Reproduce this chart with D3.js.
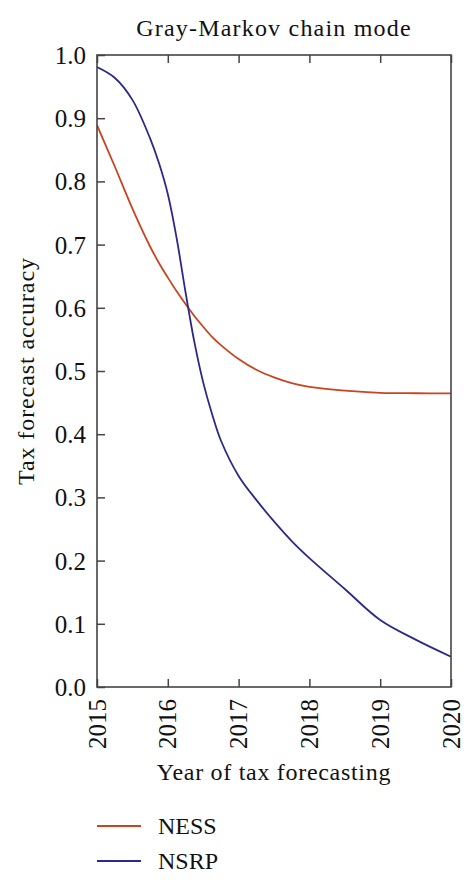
<!DOCTYPE html>
<html>
<head>
<meta charset="utf-8">
<script src="https://cdn.jsdelivr.net/npm/d3@7"></script>
<style>
  body { margin: 0; background: #fff; }
  svg text { font-family: "Liberation Serif", "DejaVu Serif", serif; fill: #111; }
</style>
</head>
<body>
<div class="canvas"></div>
<script>
// data
const years = [2015, 2015.25, 2015.5, 2015.75, 2015.875, 2016, 2016.125, 2016.25, 2016.375, 2016.5,
               2016.625, 2016.75, 2017, 2017.25, 2017.5, 2017.75, 2018, 2018.5, 2019, 2019.5, 2020];
const ness = [0.889, 0.824, 0.757, 0.697, 0.671, 0.648, 0.626, 0.606, 0.587, 0.570,
              0.554, 0.541, 0.519, 0.502, 0.490, 0.481, 0.475, 0.469, 0.4655, 0.4648, 0.4647];
const nsrp = [0.981, 0.964, 0.929, 0.868, 0.829, 0.780, 0.710, 0.625, 0.546, 0.482,
              0.432, 0.390, 0.334, 0.296, 0.262, 0.231, 0.204, 0.155, 0.106, 0.075, 0.048];
const xTicks = [2015, 2016, 2017, 2018, 2019, 2020];
const yTicks = [0, 0.1, 0.2, 0.3, 0.4, 0.5, 0.6, 0.7, 0.8, 0.9, 1.0];
const seriesNames = ['NESS', 'NSRP'];

const dims = { width: 474, height: 884 };
const plot = { left: 97, right: 451, top: 55, bottom: 687 };
const colours = { NESS: '#c9441f', NSRP: '#2c2a88' };

const svg = d3.select('.canvas')
    .append('svg')
    .attr('width', dims.width)
    .attr('height', dims.height);

const x = d3.scaleLinear().domain([2015, 2020]).range([plot.left, plot.right]);
const y = d3.scaleLinear().domain([0, 1]).range([plot.bottom, plot.top]);

// inside ticks
const tickLen = 8;
const xAxisBottom = d3.axisBottom(x).tickValues(xTicks).tickSize(-tickLen).tickFormat('');
const xAxisTop = d3.axisTop(x).tickValues(xTicks).tickSize(-tickLen).tickFormat('');
const yAxis = d3.axisLeft(y).tickValues(yTicks).tickSize(-tickLen).tickPadding(11)
    .tickFormat(d3.format('.1f'));

const styleAxis = g => {
    g.select('.domain').remove();
    g.selectAll('line').attr('stroke', '#444').attr('stroke-width', 1.5);
};

svg.append('g').attr('transform', `translate(0,${plot.bottom})`).call(xAxisBottom).call(styleAxis);
svg.append('g').attr('transform', `translate(0,${plot.top})`).call(xAxisTop).call(styleAxis);

const yG = svg.append('g').attr('transform', `translate(${plot.left},0)`).call(yAxis).call(styleAxis);
yG.selectAll('text')
    .attr('font-size', 25)
    .attr('font-family', '"Liberation Serif", serif')
    .attr('fill', '#111')
    .attr('dy', '0.34em');

// rotated year labels
svg.append('g').selectAll('text')
    .data(xTicks)
    .enter().append('text')
    .attr('transform', d => `translate(${x(d)},${plot.bottom + 12}) rotate(-90)`)
    .attr('text-anchor', 'end')
    .attr('dy', '0.34em')
    .attr('font-size', 25)
    .text(d => d);

// curves
const line = d3.line()
    .x((d, i) => x(years[i]))
    .y(d => y(d))
    .curve(d3.curveCatmullRom.alpha(0.5));

svg.append('clipPath').attr('id', 'plotclip')
    .append('rect')
    .attr('x', plot.left).attr('y', plot.top)
    .attr('width', plot.right - plot.left).attr('height', plot.bottom - plot.top);

const lines = svg.append('g').attr('clip-path', 'url(#plotclip)');
lines.append('path').datum(ness)
    .attr('d', line).attr('fill', 'none')
    .attr('stroke', colours.NESS).attr('stroke-width', 1.8);
lines.append('path').datum(nsrp)
    .attr('d', line).attr('fill', 'none')
    .attr('stroke', colours.NSRP).attr('stroke-width', 1.8);

// frame
svg.append('rect')
    .attr('x', plot.left).attr('y', plot.top)
    .attr('width', plot.right - plot.left).attr('height', plot.bottom - plot.top)
    .attr('fill', 'none').attr('stroke', '#444').attr('stroke-width', 1.6);

// titles
svg.append('text')
    .attr('x', (plot.left + plot.right) / 2).attr('y', 36)
    .attr('text-anchor', 'middle').attr('font-size', 24)
    .attr('letter-spacing', 1.2)
    .text('Gray-Markov chain mode');

svg.append('text')
    .attr('x', (plot.left + plot.right) / 2).attr('y', 780)
    .attr('text-anchor', 'middle').attr('font-size', 24)
    .attr('letter-spacing', 0.7)
    .text('Year of tax forecasting');

svg.append('text')
    .attr('transform', `translate(34,${(plot.top + plot.bottom) / 2}) rotate(-90)`)
    .attr('text-anchor', 'middle').attr('font-size', 24)
    .attr('letter-spacing', 0.9)
    .text('Tax forecast accuracy');

// legend
const legend = svg.append('g').attr('transform', 'translate(97,826)');
const items = legend.selectAll('g')
    .data(seriesNames)
    .enter().append('g')
    .attr('transform', (d, i) => `translate(0,${i * 35})`);
items.append('line')
    .attr('x1', 0).attr('x2', 44)
    .attr('stroke', d => colours[d]).attr('stroke-width', 1.8);
items.append('text')
    .attr('x', 61).attr('dy', '0.34em')
    .attr('font-size', 24)
    .text(d => d);
</script>
</body>
</html>
